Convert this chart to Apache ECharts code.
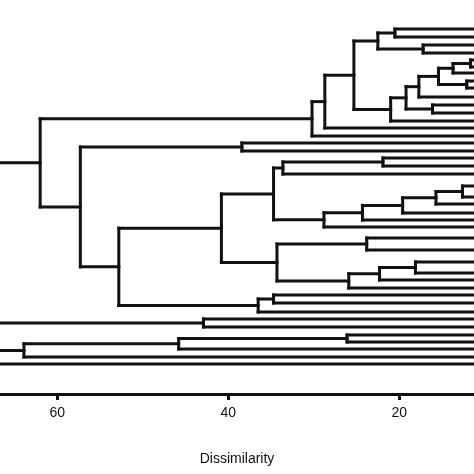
<!DOCTYPE html>
<html><head><meta charset="utf-8">
<script src="https://cdn.jsdelivr.net/npm/echarts@6/dist/echarts.min.js"></script>
<style>html,body{margin:0;padding:0;background:#fff}#c{width:474px;height:474px}</style>
</head><body><div id="c"></div>
<script>
// leaf positions (vertical, in plot units) top to bottom
const leafPos = [29,37,45,53,60,67,73,81,88,97,105,113,121,128,136,143,151,158,166,174,186,197,204,213,220,227,238,250,262,273,280,288,295,303,312,319,327,335,342,349,357,364];
// merges: [height (dissimilarity), left, right]; numbers are leaf indices
const a=[20.5,0,1], b=[17.2,2,3], ab=[22.5,a,b];
const nA=[11.65,4,5], nB=[13.7,nA,6], nC=[12.1,7,8], nD=[15.4,nB,nC], nE=[17.7,nD,9];
const nF=[16.1,10,11], nG=[19.2,nE,nF], nH=[21.0,nG,12], nI=[25.3,ab,nH];
const nJ=[28.7,nI,13], nK=[30.2,nJ,14];
const nP=[38.4,15,16];
const nV=[33.6,[21.9,17,18],19];
const w1=[12.6,20,21], w2=[15.7,w1,22], w3=[19.6,w2,23], w4=[24.3,w3,24], nW=[28.8,w4,25];
const nT=[34.7,nV,nW];
const u1=[23.8,26,27], nAA=[18.1,28,29], nZ=[22.3,nAA,30], nY=[25.9,nZ,31], nU=[34.3,u1,nY];
const nR=[40.8,nT,nU];
const nS=[36.5,[34.7,32,33],34];
const nQ=[52.8,nR,nS], nN=[57.3,nP,nQ], nM=[62.0,nK,nN];
const l1=[42.9,35,36], l2=[26.1,37,38], l3=[45.8,l2,39], l4=[63.9,l3,40];
const root=[85,[75,nM,l1],[70,l4,41]];
const xTicks=[20,40,60];

const segs=[];
function walk(n,parentH){
  if(typeof n==='number'){ const y=leafPos[n]; segs.push([0,y,parentH,y]); return y; }
  const y1=walk(n[1],n[0]), y2=walk(n[2],n[0]);
  segs.push([n[0],y1,n[0],y2]);
  const m=(y1+y2)/2;
  if(parentH!=null) segs.push([n[0],m,parentH,m]);
  return m;
}
walk(root,null);

const chart=echarts.init(document.getElementById('c'));
chart.setOption({
  animation:false,
  grid:{left:0,right:0,top:0,bottom:80},
  xAxis:{type:'value',inverse:true,min:11.25,max:66.7,position:'bottom',
    name:'Dissimilarity',nameLocation:'middle',nameGap:58,
    nameTextStyle:{fontFamily:'Liberation Sans',fontSize:14,color:'#111'},
    axisLine:{onZero:false,lineStyle:{color:'#111',width:3}},
    axisTick:{customValues:xTicks,length:6,inside:false,lineStyle:{color:'#111',width:3}},
    axisLabel:{customValues:xTicks,fontFamily:'Liberation Sans',fontSize:14,color:'#111',margin:12},
    splitLine:{show:false}},
  yAxis:{type:'value',inverse:true,min:0,max:394,show:false},
  series:[{type:'custom',clip:true,data:segs,
    renderItem:function(params,api){
      const p1=api.coord([api.value(0),api.value(1)]);
      const p2=api.coord([api.value(2),api.value(3)]);
      return {type:'line',shape:{x1:p1[0],y1:p1[1],x2:p2[0],y2:p2[1]},
        style:{stroke:'#111',lineWidth:3,lineCap:'square'}};
    }}]
});
</script></body></html>
